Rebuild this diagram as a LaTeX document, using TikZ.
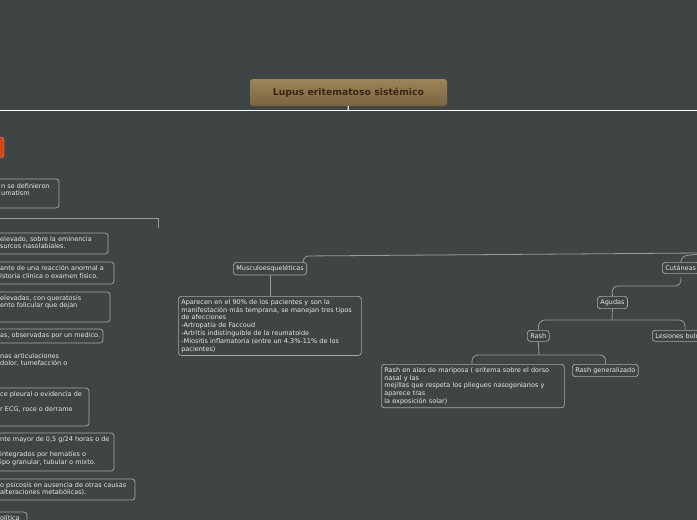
\documentclass[tikz,border=0pt]{standalone}
\usepackage{fontspec}
\setmainfont{DejaVu Sans}
\hyphenpenalty=10000
\exhyphenpenalty=10000
\definecolor{bg}{HTML}{3F4545}
\definecolor{bd}{HTML}{A8A8A8}
\definecolor{ln}{HTML}{9A9A9A}
\definecolor{tx}{HTML}{E8E8E8}
\definecolor{rootA}{HTML}{9C8558}
\definecolor{rootB}{HTML}{7A6440}
\definecolor{rtx}{HTML}{3A2510}
\definecolor{org}{HTML}{D0461A}
\tikzset{
 box/.style={draw=bd, rounded corners=3pt, line width=0.7pt, text=tx, font=\fontsize{6.5}{7.8}\selectfont, align=left, inner sep=3pt},
 lframe/.style={draw=bd, rounded corners=3pt, line width=0.7pt},
 con/.style={draw=ln, line width=0.8pt, rounded corners=6pt},
 plain/.style={text=tx, font=\fontsize{6.5}{7.8}\selectfont, align=left, inner sep=0pt, anchor=north west}
}
\begin{document}
\begin{tikzpicture}[x=1pt,y=-1pt]
\fill[bg] (0,0) rectangle (697,520);
\useasboundingbox (0,0) rectangle (697,520);
\clip (0,0) rectangle (697,520);
% root
\node[draw=none, rounded corners=3pt, top color=rootA, bottom color=rootB, text=rtx, font=\bfseries\fontsize{9.3}{11}\selectfont, minimum width=197pt, minimum height=27pt, inner sep=0pt] (root) at (348.5,92.5) {Lupus eritematoso sistémico};
\draw[white, line width=1pt] (0,110) -- (697,110);
\coordinate (tick) at (348,110);
\draw[white, line width=1pt] (root.south) -- (tick);
% left column
\fill[org, rounded corners=3pt] (-20,137) rectangle (4,158);
\draw[bd, rounded corners=3pt] (-20,137) rectangle (4,158);
\draw[lframe] (-20,179) rectangle (59,208);
\node[plain] (l2) at (1,183) {n se definieron\\umatism};
\coordinate (b1) at (0,218); \coordinate (b2) at (158,218); \coordinate (b3) at (158,228);
\draw[ln, line width=0.8pt] (b1) -- (b2) -- (b3);
\draw[lframe] (-20,233) rectangle (108,254);
\node[plain] (l4) at (0,236) {elevado, sobre la eminencia\\ surcos nasolabiales.};
\draw[lframe] (-20,262) rectangle (114,284);
\node[plain] (l5) at (0,265) {ante de una reacción anormal a\\istoria clínica o examen físico.};
\draw[lframe] (-20,292) rectangle (110,322);
\node[plain] (l6) at (0,295) {elevadas, con queratosis\\ento folicular que dejan};
\draw[lframe] (-20,329) rectangle (103,343);
\node[plain] (l7) at (0,332) {as, observadas por un medico.};
\node[plain] (l8) at (0,353) {nas articulaciones\\ dolor, tumefacción o};
\draw[lframe] (-20,388) rectangle (89,426);
\node[plain] (l9) at (0,391) {ce pleural o evidencia de\\\mbox{}\\r ECG, roce o derrame};
\draw[lframe] (-20,433) rectangle (114,471);
\node[plain] (l10) at (0,436) {nte mayor de 0,5 g/24 horas o de\\\mbox{}\\integrados por hematíes o\\ipo granular, tubular o mixto.};
\draw[lframe] (-20,479) rectangle (135,500);
\node[plain] (l11) at (0,482) {o psicosis en ausencia de otras causas\\alteraciones metabólicas).};
\draw[lframe] (-20,512) rectangle (27,530);
\node[plain] (l12) at (0,515) {olítica};
% right tree
\node[box, anchor=north west] (mus) at (233,262) {Musculoesqueléticas};
\node[box, anchor=north west, text width=177pt] (musd) at (178,296) {Aparecen en el 90\% de los pacientes y son la manifestación más temprana, se manejan tres tipos de afecciones\\-Artropatía de Faccoud\\-Artritis indistinguible de la reumatoide\\-Miositis inflamatoria (entre un 4.3\%-11\% de los pacientes)};
\node[box, anchor=north west] (cut) at (662,262) {Cutáneas};
\node[box, anchor=north west] (agu) at (597,296) {Agudas};
\node[box, anchor=north west] (rash) at (527,330) {Rash};
\node[box, anchor=north west] (les) at (652,330) {Lesiones bulosas};
\node[box, anchor=north west, text width=177pt] (rmar) at (381,364) {Rash en alas de mariposa ( eritema sobre el dorso nasal y las\\mejillas que respeta los pliegues nasogenianos y aparece tras\\la exposición solar)};
\node[box, anchor=north west] (rgen) at (572,364) {Rash generalizado};
\coordinate (rin) at (700,253);
\coordinate (rin2) at (700,254);
\draw[con] (rin) -- (303,256) -- (303,262);
\draw[con] (mus.south) -- (mus.south |- musd.north);
\draw[con] (rin2) -- (681,256) -- (681,262);
\draw[con] (681,277) -- (681,286) -- (612,286) -- (agu.north);
\draw[con] (agu.south) -- (612,320);
\draw[con] (612,320) -- (539,320) -- (rash.north);
\draw[con] (612,320) -- (685,320) -- (685,330);
\draw[con] (rash.south) -- (539,355);
\draw[con] (539,355) -- (472,355) -- (472,364);
\draw[con] (539,355) -- (606,355) -- (rgen.north);
\end{tikzpicture}
\end{document}
